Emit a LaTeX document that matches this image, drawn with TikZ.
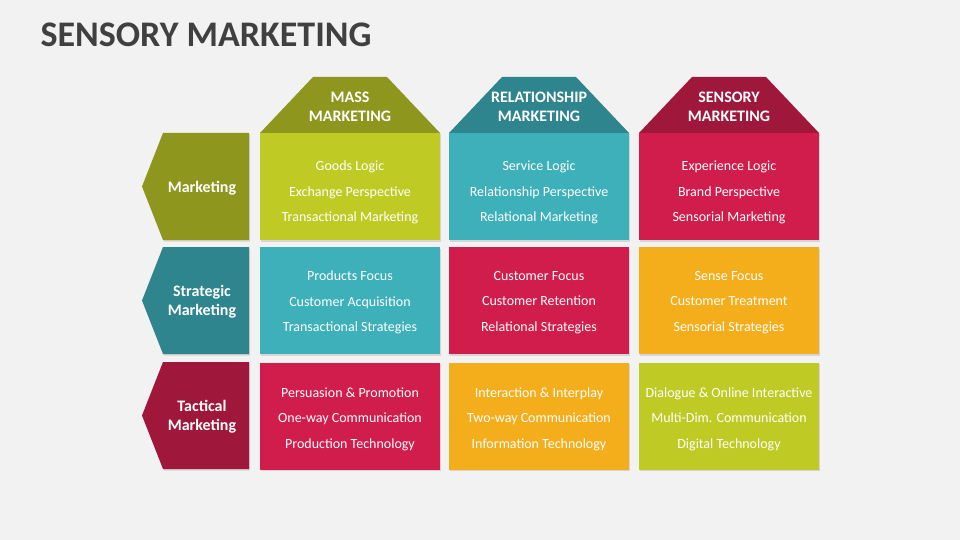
\documentclass[tikz,border=0pt]{standalone}
\usepackage{fontspec}
\setmainfont{Carlito}
\usetikzlibrary{shadows}
\definecolor{bg}{HTML}{F2F2F2}
\definecolor{lime}{HTML}{C0CA24}
\definecolor{olive}{HTML}{8E961E}
\definecolor{teal}{HTML}{3DB0BA}
\definecolor{dteal}{HTML}{2E858D}
\definecolor{crim}{HTML}{D01D4C}
\definecolor{dcrim}{HTML}{A0173C}
\definecolor{orng}{HTML}{F5AE1B}
\definecolor{ttl}{HTML}{404040}
\begin{document}
\begin{tikzpicture}[x=1pt,y=-1pt,
  cell/.style={inner sep=0,minimum width=180pt,minimum height=107pt,drop shadow={opacity=0.25,shadow xshift=1pt,shadow yshift=-1.5pt}},
  tx/.style={text=white,font=\fontsize{14}{25.5}\selectfont,align=center},
  hd/.style={text=white,font=\bfseries\fontsize{16}{19}\selectfont,align=center},
  sh/.style={drop shadow={opacity=0.25,shadow xshift=1pt,shadow yshift=-1.5pt}}]
\fill[bg] (0,0) rectangle (960,540);
\useasboundingbox (0,0) rectangle (960,540);
\node[anchor=west,text=ttl,font=\bfseries\fontsize{36}{40}\selectfont] (title) at (37,35) {SENSORY MARKETING};
% headers
\foreach \x/\c/\t/\n in {260/olive/{MASS\\MARKETING}/h1,449/dteal/{RELATIONSHIP\\MARKETING}/h2,639/dcrim/{SENSORY\\MARKETING}/h3}{
  \fill[\c,sh] (\x,133) -- (\x+53,77) -- (\x+127,77) -- (\x+180,133) -- cycle;
  \node[hd] (\n) at (\x+90,107) {\t};
}
% left arrows
\foreach \y/\c/\t/\n in {133/olive/{Marketing}/l1,247/dteal/{Strategic\\Marketing}/l2,362/dcrim/{Tactical\\Marketing}/l3}{
  \fill[\c,sh] (163,\y) -- (249,\y) -- (249,\y+107) -- (163,\y+107) -- (142,\y+53.5) -- cycle;
  \node[hd] (\n) at (202,\y+55) {\t};
}
% cells
\foreach \x/\y/\c/\n in {350/186.5/lime/c11,539/186.5/teal/c12,729/186.5/crim/c13,350/300.5/teal/c21,539/300.5/crim/c22,729/300.5/orng/c23,350/416/crim/c31,539/416/orng/c32,729/416/lime/c33}{
  \node[cell,fill=\c] (\n) at (\x,\y) {};
}
\node[tx] at ([yshift=-6pt]c11) {Goods Logic\\Exchange Perspective\\Transactional Marketing};
\node[tx] at ([yshift=-6pt]c12) {Service Logic\\Relationship Perspective\\Relational Marketing};
\node[tx] at ([yshift=-6pt]c13) {Experience Logic\\Brand Perspective\\Sensorial Marketing};
\node[tx] at ([yshift=-2pt]c21) {Products Focus\\Customer Acquisition\\Transactional Strategies};
\node[tx] at ([yshift=-2pt]c22) {Customer Focus\\Customer Retention\\Relational Strategies};
\node[tx] at ([yshift=-2pt]c23) {Sense Focus\\Customer Treatment\\Sensorial Strategies};
\node[tx] at ([yshift=-3pt]c31) {Persuasion \& Promotion\\One-way Communication\\Production Technology};
\node[tx] at ([yshift=-3pt]c32) {Interaction \& Interplay\\Two-way Communication\\Information Technology};
\node[tx] at ([yshift=-3pt]c33) {Dialogue \& Online Interactive\\Multi-Dim. Communication\\Digital Technology};
\end{tikzpicture}
\end{document}
